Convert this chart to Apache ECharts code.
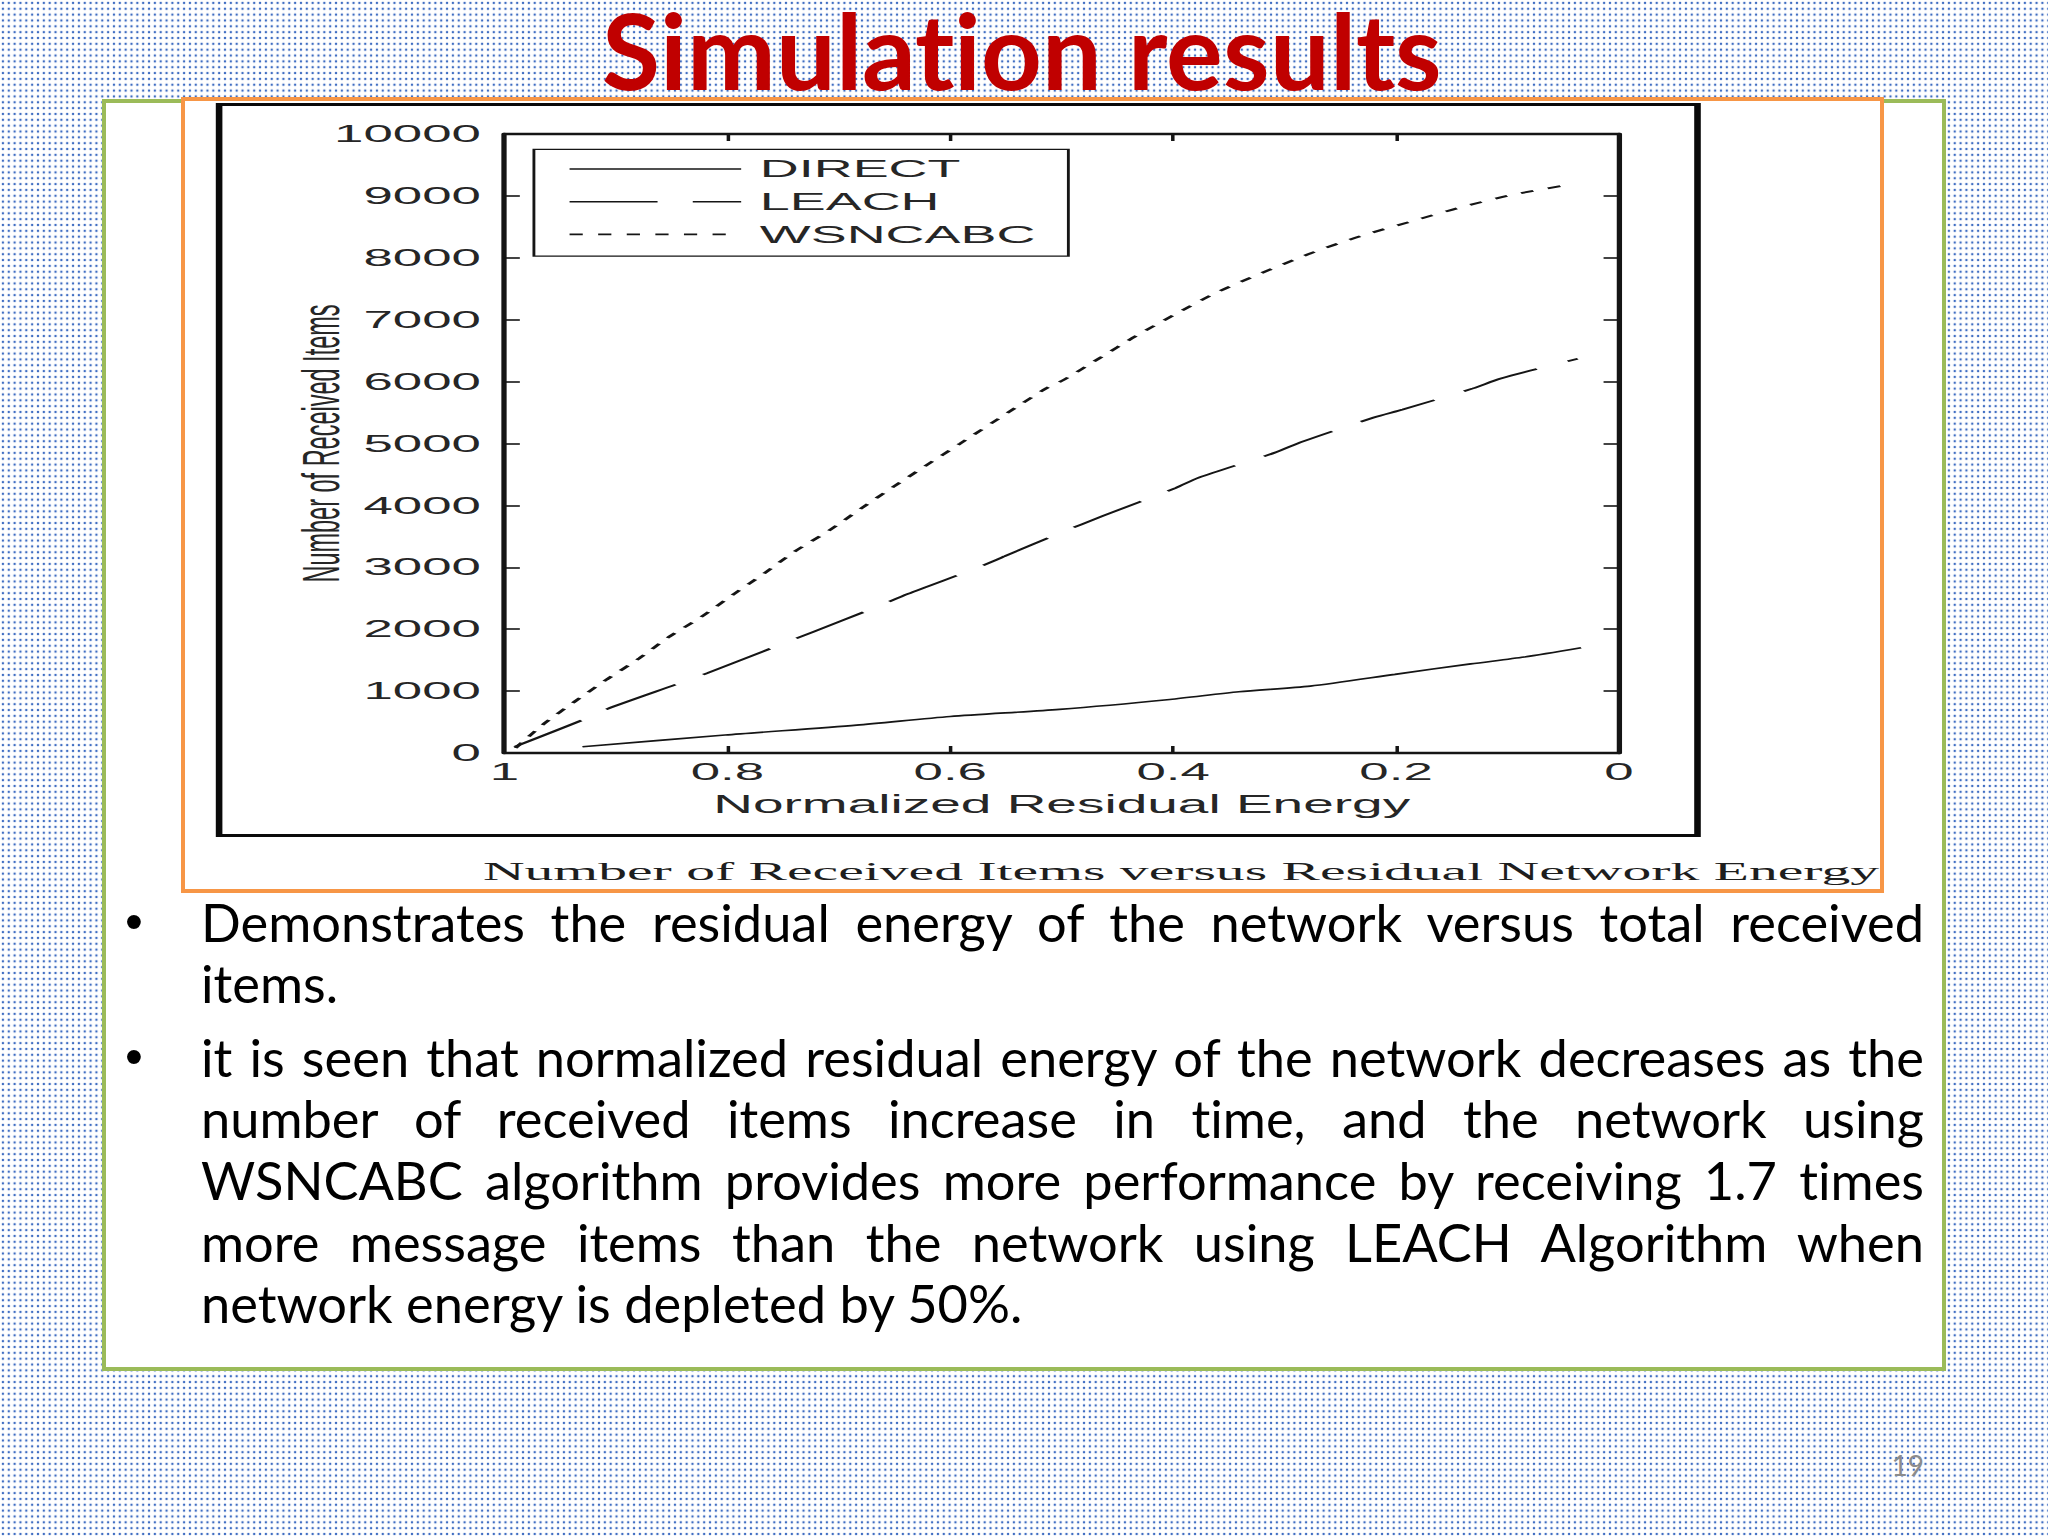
<!DOCTYPE html>
<html>
<head>
<meta charset="utf-8">
<script src="https://cdn.jsdelivr.net/npm/echarts@6/dist/echarts.min.js"></script>
<style>
  @font-face {
    font-family: 'SlideTitle';
    src: local('Lato Bold'), local('Lato-Bold');
    font-weight: 700;
    ascent-override: 80%; descent-override: 20%; line-gap-override: 0%;
  }
  html, body { margin: 0; padding: 0; }
  body {
    width: 2048px; height: 1536px; overflow: hidden; position: relative;
    background-color: #ffffff;
    background-image: radial-gradient(circle, #3f6dc2 0, #3f6dc2 1.1px, rgba(63,109,194,0) 1.6px);
    background-size: 5.85px 5.85px;
  }
  #title {
    position: absolute; left: -2px; top: 5px; width: 2048px; text-align: center;
    font-family: 'SlideTitle', Lato, 'Noto Sans', sans-serif; font-weight: bold; font-size: 106px; line-height: normal;
    color: #C00000; z-index: 3;
    font-variant-ligatures: none; font-feature-settings: "liga" 0, "clig" 0;
  }
  #green {
    position: absolute; left: 102px; top: 99px; width: 1844px; height: 1272px;
    box-sizing: border-box; border: 4px solid #9BBB59; background: #ffffff;
  }
  #orange {
    position: absolute; left: 181px; top: 97px; width: 1703px; height: 796px;
    box-sizing: border-box; border: 4.5px solid #F79646; background: #ffffff;
  }
  #wrap {
    position: absolute; left: 185px; top: 101px; width: 785px; height: 788px;
    transform: scaleX(2.2); transform-origin: 0 0;
  }
  #frame {
    position: absolute; left: 13.9px; top: 2.3px; width: 675.4px; height: 734px;
    box-sizing: border-box; border: 3.6px solid #0a0a0a;
  }
  #chart { position: absolute; left: 0; top: 0; width: 785px; height: 788px; }
  #text {
    position: absolute; left: 201px; top: 890.5px; width: 1723px;
    font-family: Lato, 'Noto Sans', sans-serif; font-size: 50.5px; line-height: 61.7px; color: #000;
    font-variant-ligatures: none; font-feature-settings: "liga" 0, "clig" 0;
  }
  .p { position: relative; }
  .p + .p { margin-top: 11.6px; }
  .ln { display: block; text-align: justify; text-align-last: justify; }
  .ln.last { text-align-last: left; }
  .bul { position: absolute; left: -76px; top: 0; font-family: 'Liberation Sans', Arial, sans-serif; font-size: 51px; }
  #pnum {
    position: absolute; right: 124px; top: 1448px;
    font-family: Lato, sans-serif; font-size: 28px; line-height: 34px; color: #8c8c8c;
  }
</style>
</head>
<body>
<div id="green"></div>
<div id="orange"></div>
<div id="title">Simulation results</div>
<div id="wrap"><div id="frame"></div><div id="chart"></div></div>
<div id="text">
  <div class="p"><span class="bul">•</span>
    <span class="ln">Demonstrates the residual energy of the network versus total received</span>
    <span class="ln last">items.</span>
  </div>
  <div class="p"><span class="bul">•</span>
    <span class="ln">it is seen that normalized residual energy of the network decreases as the</span>
    <span class="ln">number of received items increase in time, and the network using</span>
    <span class="ln">WSNCABC algorithm provides more performance by receiving 1.7 times</span>
    <span class="ln">more message items than the network using LEACH Algorithm when</span>
    <span class="ln last">network energy is depleted by 50%.</span>
  </div>
</div>
<div id="pnum">19</div>
<script>
// ---------------- data ----------------
const seriesNames = ['DIRECT', 'LEACH', 'WSNCABC'];

const energyDirect = [0.930, 0.802, 0.684, 0.600, 0.502, 0.403, 0.341, 0.277, 0.201, 0.133, 0.085, 0.034];
const itemsDirect  = [100, 290, 450, 590, 705, 865, 990, 1080, 1270, 1440, 1550, 1700];

const energyLeach = [0.991, 0.929, 0.908, 0.844, 0.818, 0.751, 0.724, 0.666, 0.638, 0.576, 0.551, 0.502, 0.463, 0.398, 0.377, 0.309, 0.284, 0.220, 0.194, 0.131, 0.106, 0.037];
const itemsLeach  = [100, 540, 710, 1120, 1290, 1760, 1950, 2360, 2570, 2990, 3180, 3550, 3830, 4280, 4450, 4850, 5030, 5420, 5550, 5890, 6050, 6370];

const energyWsncabc = [0.99, 0.964, 0.937, 0.908, 0.879, 0.852, 0.824, 0.794, 0.767, 0.740, 0.709, 0.680, 0.651, 0.623, 0.591, 0.549, 0.514, 0.498, 0.466, 0.434, 0.399, 0.362, 0.325, 0.277, 0.232, 0.184, 0.141, 0.095, 0.042];
const itemsWsncabc  = [80, 480, 830, 1190, 1530, 1880, 2190, 2570, 2900, 3250, 3590, 3950, 4300, 4630, 5000, 5490, 5890, 6030, 6380, 6730, 7080, 7430, 7720, 8070, 8350, 8600, 8820, 9020, 9190];

const xAxisMin = 0, xAxisMax = 1, xAxisStep = 0.2;
const yAxisMin = 0, yAxisMax = 10000, yAxisStep = 1000;
const xAxisTitle = 'Normalized Residual Energy';
const yAxisTitle = 'Number of Received Items';
const figureCaption = 'Number of Received Items versus Residual Network Energy';

// ---------------- fit the justified slide text ----------------
(function fitText() {
  const box = document.getElementById('text');
  const probe = document.createElement('span');
  probe.style.cssText = 'position:absolute;visibility:hidden;white-space:nowrap;left:0;top:0;';
  box.appendChild(probe);
  let maxW = 0;
  document.querySelectorAll('#text .ln').forEach(l => {
    probe.textContent = l.textContent.trim();
    maxW = Math.max(maxW, probe.getBoundingClientRect().width);
  });
  box.removeChild(probe);
  const fs = Math.min(52.4, 50.5 * 1712 / maxW);
  box.style.fontSize = fs + 'px';
})();

// narrow face for the rotated y-axis title, if installed
function hasFont(name) {
  const c = document.createElement('canvas').getContext('2d');
  const s = 'Number of Received Items';
  c.font = '40px monospace';
  const w0 = c.measureText(s).width;
  c.font = '40px "' + name + '", monospace';
  return Math.abs(c.measureText(s).width - w0) > 1;
}
const narrowOK = hasFont('Liberation Sans Narrow');

// ---------------- chart ----------------
const zip = (xs, ys) => xs.map((x, i) => [x, ys[i]]);
const FONT = "'Liberation Sans', Arial, Helvetica, sans-serif";
const TXT = '#262626';
const INK = '#151515';

const chart = echarts.init(document.getElementById('chart'), null, { renderer: 'svg' });

const axisCommon = {
  axisLine: { show: true, onZero: false, lineStyle: { color: INK, width: 2.4 } },
  axisTick: { show: true, inside: true, length: 7, lineStyle: { color: INK, width: 1.6 } },
  splitLine: { show: false }
};

const lineSeries = (name, xs, ys, dash, w) => ({
  name, type: 'line', data: zip(xs, ys),
  symbol: 'none', showSymbol: false, smooth: 0.25,
  itemStyle: { color: INK },
  lineStyle: { color: INK, width: w, type: dash }
});

const yNameStyle = narrowOK
  ? { fontFamily: "'Liberation Sans Narrow', 'Liberation Sans', Arial, sans-serif", fontSize: 28, color: TXT }
  : { fontFamily: FONT, fontSize: 23.5, color: TXT };

chart.setOption({
  animation: false,
  backgroundColor: 'transparent',
  title: {
    text: figureCaption, left: 135.4, top: 757, padding: 0,
    textStyle: { fontFamily: "'Liberation Serif', 'Times New Roman', serif", fontSize: 26.2, fontWeight: 'normal', color: '#1e1e1e' }
  },
  grid: { left: 145.2, width: 506.6, top: 33, height: 619, containLabel: false, outerBoundsMode: 'none' },
  legend: {
    orient: 'vertical', left: 158.6, top: 48.3,
    data: seriesNames,
    itemWidth: 78, itemHeight: 18, itemGap: 7.7,
    padding: [7.2, 15, 9.2, 15.4],
    borderColor: INK, borderWidth: 1.3, backgroundColor: '#ffffff',
    itemStyle: { opacity: 0 },
    lineStyle: { width: 1.6 },
    textStyle: { fontFamily: FONT, fontSize: 24.5, color: TXT, padding: [0, 0, 0, 3.5] }
  },
  xAxis: [
    Object.assign({
      type: 'value', min: xAxisMin, max: xAxisMax, interval: xAxisStep, inverse: true, position: 'bottom',
      name: xAxisTitle, nameLocation: 'middle', nameGap: 39,
      nameTextStyle: { fontFamily: FONT, fontSize: 25, color: TXT },
      axisLabel: { fontFamily: FONT, fontSize: 24, color: TXT, margin: 7 }
    }, axisCommon),
    Object.assign({
      type: 'value', min: xAxisMin, max: xAxisMax, interval: xAxisStep, inverse: true, position: 'top',
      axisLabel: { show: false }
    }, axisCommon)
  ],
  yAxis: [
    Object.assign({
      type: 'value', min: yAxisMin, max: yAxisMax, interval: yAxisStep, position: 'left',
      name: yAxisTitle, nameLocation: 'middle', nameGap: 71, nameMoveOverlap: false,
      nameTextStyle: yNameStyle,
      axisLabel: { fontFamily: FONT, fontSize: 24, color: TXT, margin: 10.7, formatter: v => String(v) }
    }, axisCommon),
    Object.assign({
      type: 'value', min: yAxisMin, max: yAxisMax, interval: yAxisStep, position: 'right',
      axisLabel: { show: false }
    }, axisCommon)
  ],
  series: [
    lineSeries('DIRECT', energyDirect, itemsDirect, 'solid', 1.6),
    lineSeries('LEACH', energyLeach, itemsLeach, [40, 16], 1.7),
    lineSeries('WSNCABC', energyWsncabc, itemsWsncabc, [6, 7], 1.9)
  ]
});
</script>
</body>
</html>
